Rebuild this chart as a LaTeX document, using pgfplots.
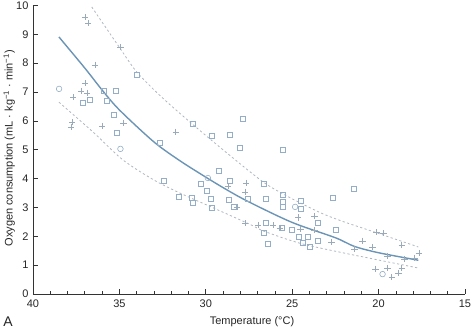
\documentclass[border=0pt]{standalone}
\usepackage{pgfplots}
\pgfplotsset{compat=1.18}
\usepackage{fontspec}
\setmainfont{Liberation Sans}
\definecolor{pts}{HTML}{93AEC6}
\definecolor{plus}{HTML}{9AAAB8}
\definecolor{fit}{HTML}{6B95B6}
\definecolor{band}{HTML}{AEB7C0}
\definecolor{axc}{HTML}{333333}
\begin{document}
\begin{tikzpicture}
\path[use as bounding box] (-33pt,-35pt) rectangle (441pt,294pt);
\begin{axis}[
  at={(0,0)}, anchor=south west,
  scale only axis, width=432pt, height=288.5pt,
  x dir=reverse, xmin=15, xmax=40, ymin=0, ymax=10,
  axis x line=bottom, axis y line=left,
  axis line style={-, axc, line width=0.9pt},
  xtick={15,20,25,30,35,40}, ytick={0,1,...,10},
  minor x tick num=4,
  tick align=inside, major tick length=5pt, minor tick length=3pt,
  tick style={axc, line width=0.7pt},
  /pgf/number format/assume math mode=true,
  ticklabel style={font=\fontsize{11}{13}\selectfont, text=black!85},
  xticklabel style={yshift=-2pt},
  yticklabel style={xshift=-1pt},
  xlabel={Temperature (°C)},
  ylabel={Oxygen consumption (mL · kg\textsuperscript{−1} · min\textsuperscript{−1})},
  label style={font=\fontsize{11}{13}\selectfont, text=black!85},
  xlabel style={at={(axis description cs:0.507,0)}, anchor=center, yshift=-28pt},
  ylabel style={at={(axis description cs:-0.055,0.505)}, anchor=center},
  clip=false,
]
% upper band
\addplot[band, line width=0.8pt, dash pattern=on 2.2pt off 2.4pt, smooth, tension=0.5] coordinates {
 (36.6,9.95) (35,8.55) (34,7.7) (32.6,6.85) (30.8,5.9) (28.6,4.8) (26.6,3.85) (25,3.3) (23.3,2.8) (22,2.5) (20.6,2.22) (17.7,1.63)};
% lower band
\addplot[band, line width=0.8pt, dash pattern=on 2.2pt off 2.4pt, smooth, tension=0.5] coordinates {
 (38.5,6.65) (36.5,5.6) (34.8,4.65) (33,3.95) (31.5,3.5) (29.7,3.02) (27.5,2.43) (26.6,2.17) (24.5,1.75) (22,1.42) (20.6,1.25) (17.7,0.9)};
% fitted curve
\addplot[fit, line width=1.4pt, smooth, tension=0.5] coordinates {
 (38.5,8.91) (37,7.83) (36,7.07) (35,6.38) (33,5.27) (31.5,4.62) (30,4.05) (28.75,3.6) (27.5,3.19) (25,2.48) (22.5,1.95) (21.4,1.65) (20,1.43) (17.7,1.17)};
% squares
\addplot[only marks, mark=square, mark size=2.5pt, mark options={pts, line width=0.6pt}] coordinates {
 (37.09,6.62) (36.74,6.72) (35.93,7.04) (35.23,7.04) (35.70,6.69) (35.35,6.20) (35.17,5.58)
 (34.01,7.59) (32.67,5.23) (30.76,5.89) (27.85,6.07) (29.65,5.48) (28.60,5.51) (28.02,5.06)
 (25.52,4.99) (29.24,4.26) (32.44,3.92) (28.60,3.92) (30.29,3.81) (29.94,3.57) (26.63,3.81)
 (31.57,3.36) (30.81,3.33) (30.76,3.15) (29.71,3.29) (29.65,2.98) (28.66,3.26) (28.37,3.02)
 (27.56,3.29) (26.51,3.29) (25.52,3.43) (25.52,3.19) (25.52,3.02) (24.48,3.22) (24.53,2.95)
 (26.51,2.46) (26.63,2.11) (26.40,1.73) (25.58,2.29) (25.00,2.22) (24.59,1.98) (24.07,1.98)
 (24.36,1.77) (24.01,1.63) (23.49,2.46) (23.49,1.84) (22.67,3.34) (21.45,3.64) (22.50,2.22)};
% pluses
\addplot[only marks, mark=+, mark size=3.2pt, mark options={plus, line width=0.6pt}] coordinates {
 (36.98,9.60) (36.80,9.39) (34.94,8.56) (36.40,7.94) (36.98,7.31) (36.86,6.97) (37.21,7.04)
 (37.67,6.83) (37.73,5.96) (37.79,5.79) (35.99,5.82) (34.77,5.93) (31.74,5.62) (27.67,3.85)
 (27.73,3.54) (28.72,3.75) (28.20,3.02) (27.73,2.46) (26.98,2.39) (26.10,2.39) (25.70,2.29)
 (24.65,2.65) (23.72,2.70) (23.72,2.22) (24.53,2.25) (22.73,1.80) (21.40,1.56) (20.93,1.84)
 (20.35,1.63) (20.12,2.14) (19.71,2.11) (18.66,1.70) (19.48,1.32) (18.49,1.21) (17.91,1.25)
 (17.67,1.42) (20.17,0.87) (19.48,0.90) (19.24,0.59) (18.84,0.73) (18.66,0.90)};
% circles
\addplot[only marks, mark=o, mark size=2.8pt, mark options={pts, line width=0.6pt}] coordinates {
 (38.49,7.11) (34.94,5.03) (29.88,4.02) (24.83,3.02) (19.77,0.69)};
\end{axis}
\node[font=\fontsize{14}{16}\selectfont, text=black!85] at (-25pt,-28pt) {A};
\end{tikzpicture}
\end{document}
